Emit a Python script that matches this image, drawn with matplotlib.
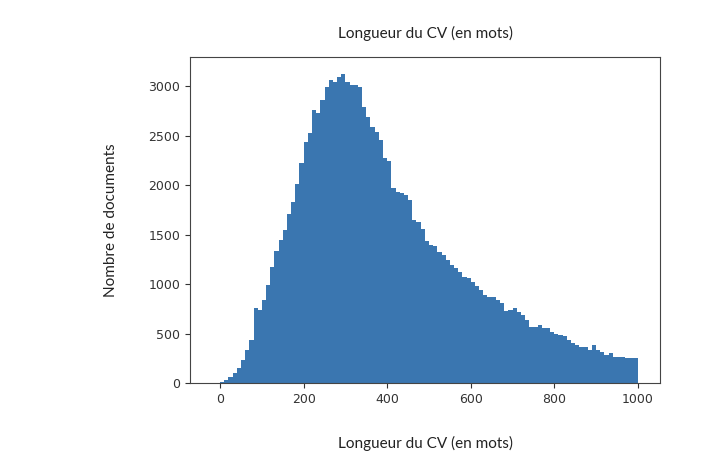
import matplotlib
matplotlib.use("Agg")
import matplotlib.pyplot as plt
import numpy as np

bin_edges = list(range(0, 1001, 10))
counts = [10, 30, 60, 100, 150, 230, 330, 430, 760, 740,
          840, 990, 1175, 1330, 1445, 1545, 1710, 1830, 2010, 2225,
          2430, 2525, 2760, 2725, 2860, 2990, 3060, 3045, 3095, 3120,
          3045, 3010, 3010, 2990, 2790, 2690, 2590, 2540, 2455, 2270,
          2240, 1970, 1930, 1920, 1900, 1850, 1650, 1630, 1560, 1430,
          1390, 1380, 1325, 1290, 1240, 1190, 1160, 1125, 1075, 1060,
          1025, 975, 940, 890, 870, 870, 840, 805, 725, 735,
          755, 720, 685, 635, 570, 570, 585, 555, 555, 520,
          500, 485, 470, 435, 400, 385, 365, 365, 335, 385,
          335, 315, 285, 300, 265, 265, 265, 250, 250, 250]

centers = [(bin_edges[i] + bin_edges[i + 1]) / 2 for i in range(len(counts))]

fig = plt.figure(figsize=(7.2, 4.69), dpi=100)
ax = fig.add_axes([190/720, 1-383/469, 470/720, 326/469])
ax.hist(centers, bins=bin_edges, weights=counts, color="#3a76b0")
ax.set_xlim(-72, 1053)
ax.set_ylim(0, 3293)
ax.set_xticks([0, 200, 400, 600, 800, 1000])
ax.set_yticks([0, 500, 1000, 1500, 2000, 2500, 3000])
ax.tick_params(labelsize=9, colors="#333333")
for s in ax.spines.values():
    s.set_color("#444444")
    s.set_linewidth(0.8)
lab = dict(family="Lato", fontsize=11, color="#222222")
ax.set_title("Longueur du CV (en mots)", pad=14, **lab)
ax.set_xlabel("Longueur du CV (en mots)", labelpad=22, **lab)
ax.set_ylabel("Nombre de documents", labelpad=22, **lab)
fig.savefig("out.png", dpi=100)
